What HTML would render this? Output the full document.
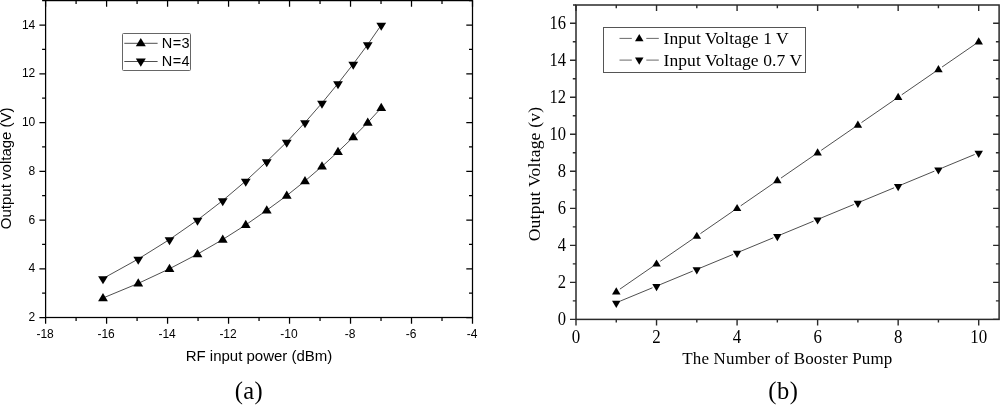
<!DOCTYPE html>
<html><head><meta charset="utf-8"><title>Figure</title>
<style>html,body{margin:0;padding:0;background:#fff}body{width:1000px;height:405px;overflow:hidden}svg{display:block}</style>
</head><body>
<svg width="1000" height="405" viewBox="0 0 1000 405">
<rect width="1000" height="405" fill="#fff"/>
<g id="left" stroke="#000" fill="none">
<rect x="45.60" y="0.60" width="426.90" height="316.90" stroke-width="1.25"/>
<path d="M45.60 317.50v6.20M45.60 0.60v6.20M76.09 317.50v3.50M76.09 0.60v3.50M106.59 317.50v6.20M106.59 0.60v6.20M137.08 317.50v3.50M137.08 0.60v3.50M167.57 317.50v6.20M167.57 0.60v6.20M198.06 317.50v3.50M198.06 0.60v3.50M228.56 317.50v6.20M228.56 0.60v6.20M259.05 317.50v3.50M259.05 0.60v3.50M289.54 317.50v6.20M289.54 0.60v6.20M320.04 317.50v3.50M320.04 0.60v3.50M350.53 317.50v6.20M350.53 0.60v6.20M381.02 317.50v3.50M381.02 0.60v3.50M411.51 317.50v6.20M411.51 0.60v6.20M442.01 317.50v3.50M442.01 0.60v3.50M472.50 317.50v6.20M472.50 0.60v6.20M45.60 317.50h-6.20M472.50 317.50h-6.20M45.60 293.12h-3.50M472.50 293.12h-3.50M45.60 268.75h-6.20M472.50 268.75h-6.20M45.60 244.38h-3.50M472.50 244.38h-3.50M45.60 220.00h-6.20M472.50 220.00h-6.20M45.60 195.62h-3.50M472.50 195.62h-3.50M45.60 171.25h-6.20M472.50 171.25h-6.20M45.60 146.88h-3.50M472.50 146.88h-3.50M45.60 122.50h-6.20M472.50 122.50h-6.20M45.60 98.12h-3.50M472.50 98.12h-3.50M45.60 73.75h-6.20M472.50 73.75h-6.20M45.60 49.38h-3.50M472.50 49.38h-3.50M45.60 25.00h-6.20M472.50 25.00h-6.20M45.60 0.62h-3.50M472.50 0.62h-3.50" stroke-width="1.25"/>
</g>
<polyline points="103.00,298.00 138.25,283.38 169.50,268.75 197.50,254.12 222.75,239.50 245.75,224.88 266.75,210.25 286.75,195.62 305.00,181.00 322.00,166.38 338.00,151.75 353.25,137.13 367.75,122.50 381.25,107.88" fill="none" stroke="#222" stroke-width="0.8"/>
<g fill="#000">
<polygon points="103.00,292.93 98.10,301.13 107.90,301.13"/>
<polygon points="138.25,278.31 133.35,286.51 143.15,286.51"/>
<polygon points="169.50,263.68 164.60,271.88 174.40,271.88"/>
<polygon points="197.50,249.06 192.60,257.26 202.40,257.26"/>
<polygon points="222.75,234.43 217.85,242.63 227.65,242.63"/>
<polygon points="245.75,219.81 240.85,228.01 250.65,228.01"/>
<polygon points="266.75,205.18 261.85,213.38 271.65,213.38"/>
<polygon points="286.75,190.56 281.85,198.76 291.65,198.76"/>
<polygon points="305.00,175.93 300.10,184.13 309.90,184.13"/>
<polygon points="322.00,161.31 317.10,169.51 326.90,169.51"/>
<polygon points="338.00,146.68 333.10,154.88 342.90,154.88"/>
<polygon points="353.25,132.06 348.35,140.26 358.15,140.26"/>
<polygon points="367.75,117.43 362.85,125.63 372.65,125.63"/>
<polygon points="381.25,102.81 376.35,111.01 386.15,111.01"/>
</g>
<polyline points="103.00,278.50 138.25,259.00 169.50,239.50 197.50,220.00 222.75,200.50 245.75,181.00 266.75,161.50 286.75,142.00 305.00,122.50 322.00,103.00 338.00,83.50 353.25,64.00 367.75,44.50 381.25,25.00" fill="none" stroke="#222" stroke-width="0.8"/>
<g fill="#000">
<polygon points="103.00,284.37 98.10,276.17 107.90,276.17"/>
<polygon points="138.25,264.87 133.35,256.67 143.15,256.67"/>
<polygon points="169.50,245.37 164.60,237.17 174.40,237.17"/>
<polygon points="197.50,225.87 192.60,217.67 202.40,217.67"/>
<polygon points="222.75,206.37 217.85,198.17 227.65,198.17"/>
<polygon points="245.75,186.87 240.85,178.67 250.65,178.67"/>
<polygon points="266.75,167.37 261.85,159.17 271.65,159.17"/>
<polygon points="286.75,147.87 281.85,139.67 291.65,139.67"/>
<polygon points="305.00,128.37 300.10,120.17 309.90,120.17"/>
<polygon points="322.00,108.87 317.10,100.67 326.90,100.67"/>
<polygon points="338.00,89.37 333.10,81.17 342.90,81.17"/>
<polygon points="353.25,69.87 348.35,61.67 358.15,61.67"/>
<polygon points="367.75,50.37 362.85,42.17 372.65,42.17"/>
<polygon points="381.25,30.87 376.35,22.67 386.15,22.67"/>
</g>
<rect x="122.5" y="33.5" width="68" height="37" rx="1" fill="#fff" stroke="#555" stroke-width="0.9"/>
<path d="M124.3 43.3h33.3M124.3 61.5h33.3" stroke="#222" stroke-width="0.8"/>
<g fill="#000"><polygon points="140.80,38.07 135.80,46.37 145.80,46.37"/><polygon points="140.80,66.73 135.80,58.43 145.80,58.43"/></g>
<g font-family="'Liberation Sans',Arial,sans-serif" font-size="14.5" fill="#000">
<text x="161.8" y="48.2" letter-spacing="0.4">N=3</text><text x="161.8" y="66.4" letter-spacing="0.4">N=4</text>
</g>
<g font-family="'Liberation Sans',Arial,sans-serif" font-size="12" fill="#000">
<text x="34.8" y="321.00" text-anchor="end" letter-spacing="-0.3">2</text>
<text x="34.8" y="272.25" text-anchor="end" letter-spacing="-0.3">4</text>
<text x="34.8" y="223.50" text-anchor="end" letter-spacing="-0.3">6</text>
<text x="34.8" y="174.75" text-anchor="end" letter-spacing="-0.3">8</text>
<text x="34.8" y="126.00" text-anchor="end" letter-spacing="-0.3">10</text>
<text x="34.8" y="77.25" text-anchor="end" letter-spacing="-0.3">12</text>
<text x="34.8" y="28.50" text-anchor="end" letter-spacing="-0.3">14</text>
<text x="45.10" y="337.6" text-anchor="middle">-18</text>
<text x="106.09" y="337.6" text-anchor="middle">-16</text>
<text x="167.07" y="337.6" text-anchor="middle">-14</text>
<text x="228.06" y="337.6" text-anchor="middle">-12</text>
<text x="289.04" y="337.6" text-anchor="middle">-10</text>
<text x="350.03" y="337.6" text-anchor="middle">-8</text>
<text x="411.01" y="337.6" text-anchor="middle">-6</text>
<text x="472.00" y="337.6" text-anchor="middle">-4</text>
</g>
<g font-family="'Liberation Sans',Arial,sans-serif" font-size="15" fill="#000">
<text x="259" y="360.9" text-anchor="middle">RF input power (dBm)</text>
<text transform="translate(11.2,168.3) rotate(-90)" text-anchor="middle">Output voltage (V)</text>
</g>
<text x="248.8" y="399.4" text-anchor="middle" letter-spacing="0.3" font-family="'Liberation Serif','Times New Roman',serif" font-size="24.5" fill="#000">(a)</text>
<g id="right" stroke="#2a2a2a" fill="none">
<rect x="576.00" y="5.00" width="423.10" height="314.40" stroke-width="1.5"/>
<path d="M576.00 319.40v6.00M576.00 5.00v6.00M616.27 319.40v3.20M616.27 5.00v3.20M656.54 319.40v6.00M656.54 5.00v6.00M696.81 319.40v3.20M696.81 5.00v3.20M737.08 319.40v6.00M737.08 5.00v6.00M777.35 319.40v3.20M777.35 5.00v3.20M817.62 319.40v6.00M817.62 5.00v6.00M857.89 319.40v3.20M857.89 5.00v3.20M898.16 319.40v6.00M898.16 5.00v6.00M938.43 319.40v3.20M938.43 5.00v3.20M978.70 319.40v6.00M978.70 5.00v6.00M576.00 319.40h-6.00M999.10 319.40h-6.00M576.00 300.89h-3.20M999.10 300.89h-3.20M576.00 282.38h-6.00M999.10 282.38h-6.00M576.00 263.87h-3.20M999.10 263.87h-3.20M576.00 245.36h-6.00M999.10 245.36h-6.00M576.00 226.85h-3.20M999.10 226.85h-3.20M576.00 208.34h-6.00M999.10 208.34h-6.00M576.00 189.83h-3.20M999.10 189.83h-3.20M576.00 171.32h-6.00M999.10 171.32h-6.00M576.00 152.81h-3.20M999.10 152.81h-3.20M576.00 134.30h-6.00M999.10 134.30h-6.00M576.00 115.79h-3.20M999.10 115.79h-3.20M576.00 97.28h-6.00M999.10 97.28h-6.00M576.00 78.77h-3.20M999.10 78.77h-3.20M576.00 60.26h-6.00M999.10 60.26h-6.00M576.00 41.75h-3.20M999.10 41.75h-3.20M576.00 23.24h-6.00M999.10 23.24h-6.00M576.00 5.00h-3" stroke-width="1.4"/>
</g>
<path d="M619.89 289.14L652.92 266.37M660.16 261.37L693.19 238.60M700.43 233.61L733.46 210.84M740.70 205.84L773.73 183.07M780.97 178.08L814.00 155.31M821.24 150.31L854.27 127.54M861.51 122.55L894.54 99.78M901.78 94.78L934.81 72.01M942.05 67.02L975.08 44.25" fill="none" stroke="#222" stroke-width="0.8"/>
<g fill="#000">
<polygon points="616.27,287.19 612.02,294.38 620.52,294.38"/>
<polygon points="656.54,259.42 652.29,266.62 660.79,266.62"/>
<polygon points="696.81,231.65 692.56,238.85 701.06,238.85"/>
<polygon points="737.08,203.89 732.83,211.09 741.33,211.09"/>
<polygon points="777.35,176.12 773.10,183.32 781.60,183.32"/>
<polygon points="817.62,148.36 813.37,155.56 821.87,155.56"/>
<polygon points="857.89,120.59 853.64,127.79 862.14,127.79"/>
<polygon points="898.16,92.83 893.91,100.03 902.41,100.03"/>
<polygon points="938.43,65.06 934.18,72.26 942.68,72.26"/>
<polygon points="978.70,37.30 974.45,44.50 982.95,44.50"/>
</g>
<path d="M620.34 301.06L652.47 287.76M660.61 284.40L692.74 271.10M700.88 267.74L733.01 254.45M741.15 251.08L773.28 237.79M781.42 234.42L813.55 221.13M821.69 217.76L853.82 204.47M861.96 201.11L894.09 187.81M902.23 184.45L934.36 171.15M942.50 167.79L974.63 154.49" fill="none" stroke="#222" stroke-width="0.8"/>
<g fill="#000">
<polygon points="616.27,307.89 612.02,300.69 620.52,300.69"/>
<polygon points="656.54,291.23 652.29,284.03 660.79,284.03"/>
<polygon points="696.81,274.57 692.56,267.37 701.06,267.37"/>
<polygon points="737.08,257.91 732.83,250.71 741.33,250.71"/>
<polygon points="777.35,241.25 773.10,234.05 781.60,234.05"/>
<polygon points="817.62,224.60 813.37,217.40 821.87,217.40"/>
<polygon points="857.89,207.94 853.64,200.74 862.14,200.74"/>
<polygon points="898.16,191.28 893.91,184.08 902.41,184.08"/>
<polygon points="938.43,174.62 934.18,167.42 942.68,167.42"/>
<polygon points="978.70,157.96 974.45,150.76 982.95,150.76"/>
</g>
<rect x="603.5" y="27.5" width="202" height="45" fill="#fff" stroke="#555" stroke-width="1"/>
<path d="M619.5 38.4h12.3M646.3 38.4h12.5M619.5 60.1h12.3M646.3 60.1h12.5" stroke="#444" stroke-width="0.8"/>
<g fill="#000"><polygon points="639.25,34.10 635.00,41.30 643.50,41.30"/><polygon points="639.25,64.80 635.00,57.60 643.50,57.60"/></g>
<g font-family="'Liberation Serif','Times New Roman',serif" font-size="17" fill="#000">
<text x="663.5" y="44.3" font-size="17.5" letter-spacing="0.08">Input Voltage 1 V</text><text x="663.5" y="66.1" font-size="17.5" letter-spacing="0.08">Input Voltage 0.7 V</text>
</g>
<g font-family="'Liberation Serif','Times New Roman',serif" font-size="18" fill="#000">
<text transform="translate(566,325.00) scale(0.92,1)" text-anchor="end">0</text>
<text transform="translate(566,287.98) scale(0.92,1)" text-anchor="end">2</text>
<text transform="translate(566,250.96) scale(0.92,1)" text-anchor="end">4</text>
<text transform="translate(566,213.94) scale(0.92,1)" text-anchor="end">6</text>
<text transform="translate(566,176.92) scale(0.92,1)" text-anchor="end">8</text>
<text transform="translate(566,139.90) scale(0.92,1)" text-anchor="end">10</text>
<text transform="translate(566,102.88) scale(0.92,1)" text-anchor="end">12</text>
<text transform="translate(566,65.86) scale(0.92,1)" text-anchor="end">14</text>
<text transform="translate(566,28.84) scale(0.92,1)" text-anchor="end">16</text>
<text transform="translate(576.00,342.8) scale(0.94,1)" text-anchor="middle">0</text>
<text transform="translate(656.54,342.8) scale(0.94,1)" text-anchor="middle">2</text>
<text transform="translate(737.08,342.8) scale(0.94,1)" text-anchor="middle">4</text>
<text transform="translate(817.62,342.8) scale(0.94,1)" text-anchor="middle">6</text>
<text transform="translate(898.16,342.8) scale(0.94,1)" text-anchor="middle">8</text>
<text transform="translate(978.70,342.8) scale(0.94,1)" text-anchor="middle">10</text>
</g>
<g font-family="'Liberation Serif','Times New Roman',serif" font-size="17" fill="#000">
<text x="787.4" y="363.7" text-anchor="middle" letter-spacing="0.17">The Number of Booster Pump</text>
<text transform="translate(540.2,174) rotate(-90)" text-anchor="middle" letter-spacing="0.22" font-size="17.5">Output Voltage (v)</text>
</g>
<text x="783.3" y="399.3" text-anchor="middle" letter-spacing="0.5" font-family="'Liberation Serif','Times New Roman',serif" font-size="24.5" fill="#000">(b)</text>
</svg>
</body></html>
